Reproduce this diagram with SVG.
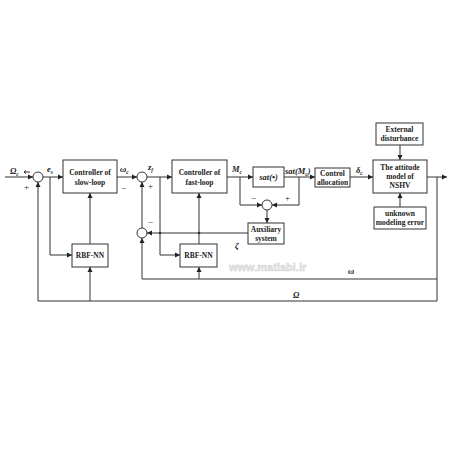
<svg xmlns="http://www.w3.org/2000/svg" width="450" height="450" viewBox="0 0 450 450">
<style>
.box{fill:#fff;stroke:#333;stroke-width:1}
.ln{fill:none;stroke:#333;stroke-width:1}
.sj{fill:#fff;stroke:#333;stroke-width:1}
.t{font-family:"Liberation Serif",serif;font-size:7.5px;font-weight:bold;fill:#222;text-anchor:middle}
.lb{font-family:"Liberation Serif",serif;font-size:8.5px;font-weight:bold;font-style:italic;fill:#222}
.sg{font-family:"Liberation Serif",serif;font-size:9px;fill:#222}
.wm{font-family:"Liberation Sans",sans-serif;font-size:11px;font-weight:bold;fill:#e4e4e4;stroke:#cfcfcf;stroke-width:0.4}
</style>
<defs>
<marker id="a" markerWidth="6" markerHeight="6" refX="5" refY="3" orient="auto" markerUnits="userSpaceOnUse">
<path d="M0,0.5 L5,3 L0,5.5 Z" fill="#222"/>
</marker>
</defs>
<rect width="450" height="450" fill="#fff"/>
<text class="wm" x="229" y="271">www.matlabi.ir</text>
<g id="connectors">
<path class="ln" d="M5,177 H33" marker-end="url(#a)"/>
<path class="ln" d="M43,177 H63" marker-end="url(#a)"/>
<path class="ln" d="M50,177 V255 H72" marker-end="url(#a)"/>
<path class="ln" d="M90,244 V193" marker-end="url(#a)"/>
<path class="ln" d="M427,177 H447" marker-end="url(#a)"/>
<path class="ln" d="M437,177 V301 H38 V182" marker-end="url(#a)"/>
<path class="ln" d="M90,301 V267" marker-end="url(#a)"/>
<path class="ln" d="M117,177 H137" marker-end="url(#a)"/>
<path class="ln" d="M147,177 H172" marker-end="url(#a)"/>
<path class="ln" d="M160,177 V255 H180" marker-end="url(#a)"/>
<path class="ln" d="M199,244 V193" marker-end="url(#a)"/>
<path class="ln" d="M142,228 V182" marker-end="url(#a)"/>
<path class="ln" d="M248,233 H147" marker-end="url(#a)"/>
<circle cx="160" cy="233" r="1.3" fill="#333"/>
<circle cx="199" cy="233" r="1.3" fill="#333"/>
<path class="ln" d="M437,279 H142 V238" marker-end="url(#a)"/>
<path class="ln" d="M199,279 V267" marker-end="url(#a)"/>
<path class="ln" d="M227,177 H253" marker-end="url(#a)"/>
<path class="ln" d="M240,177 V205 H262" marker-end="url(#a)"/>
<path class="ln" d="M284,177 H315" marker-end="url(#a)"/>
<path class="ln" d="M299,177 V205 H272" marker-end="url(#a)"/>
<path class="ln" d="M267,210 V223" marker-end="url(#a)"/>
<path class="ln" d="M350,177 H373" marker-end="url(#a)"/>
<path class="ln" d="M400,145 V160" marker-end="url(#a)"/>
<path class="ln" d="M400,207 V193" marker-end="url(#a)"/>
</g>
<g id="sum1"><circle class="sj" cx="38" cy="177" r="5"/></g>
<g id="sum2"><circle class="sj" cx="142" cy="177" r="5"/></g>
<g id="sum3"><circle class="sj" cx="142" cy="233" r="5"/></g>
<g id="sum4"><circle class="sj" cx="267" cy="205" r="5"/></g>
<g id="slow"><rect class="box" x="63" y="160" width="54" height="33"/><text class="t" x="90" y="175">Controller of</text><text class="t" x="90" y="185">slow-loop</text></g>
<g id="rbf1"><rect class="box" x="72" y="244" width="36" height="23"/><text class="t" x="90" y="258">RBF-NN</text></g>
<g id="fast"><rect class="box" x="172" y="160" width="55" height="33"/><text class="t" x="199.5" y="175">Controller of</text><text class="t" x="199.5" y="185">fast-loop</text></g>
<g id="rbf2"><rect class="box" x="180" y="244" width="37" height="23"/><text class="t" x="198.5" y="258">RBF-NN</text></g>
<g id="sat"><rect class="box" x="253" y="167" width="31" height="20"/><text class="lb" x="268.5" y="180" text-anchor="middle">sat(•)</text></g>
<g id="aux"><rect class="box" x="248" y="223" width="36" height="21"/><text class="t" x="266" y="232">Auxiliary</text><text class="t" x="266" y="241">system</text></g>
<g id="alloc"><rect class="box" x="315" y="168" width="35" height="19"/><text class="t" x="332.5" y="176">Control</text><text class="t" x="332.5" y="184.5">allocation</text></g>
<g id="nshv"><rect class="box" x="373" y="160" width="54" height="33"/><text class="t" x="400" y="170">The attitude</text><text class="t" x="400" y="179">model of</text><text class="t" x="400" y="188">NSHV</text></g>
<g id="ext"><rect class="box" x="376" y="123" width="47" height="22"/><text class="t" x="399.5" y="132">External</text><text class="t" x="399.5" y="141">disturbance</text></g>
<g id="unk"><rect class="box" x="374" y="207" width="52" height="22"/><text class="t" x="400" y="216">unknown</text><text class="t" x="400" y="225">modeling error</text></g>
<g id="labels">
<text class="lb" x="10" y="174">Ω<tspan font-size="5.5" dy="1.5">c</tspan></text>
<path d="M30,172 H24 M26,170.5 L24,172 L26,173.5" fill="none" stroke="#222" stroke-width="0.9"/>
<text class="sg" x="24" y="190">+</text>
<text class="lb" x="47" y="172">e<tspan font-size="5.5" dy="1.5">s</tspan></text>
<text class="lb" x="120" y="172">ω<tspan font-size="5.5" dy="1.5">c</tspan></text>
<text class="sg" x="121" y="191">−</text>
<text class="lb" x="148" y="170">z<tspan font-size="5.5" dy="1.5">f</tspan></text>
<text class="sg" x="148" y="189">+</text>
<text class="sg" x="148" y="225">−</text>
<text class="lb" x="232" y="172">M<tspan font-size="5.5" dy="1.5">c</tspan></text>
<text class="lb" x="285" y="174">sat(M<tspan font-size="5.5" dy="1.5">c</tspan><tspan dy="-1.5">)</tspan></text>
<text class="sg" x="251" y="201">−</text>
<text class="sg" x="285" y="201">+</text>
<text class="lb" x="356" y="173">δ<tspan font-size="5.5" dy="1.5">c</tspan></text>
<text class="lb" x="235" y="249">ζ</text>
<text class="lb" x="348" y="274">ω</text>
<text class="lb" x="293" y="298">Ω</text>
</g>
</svg>
